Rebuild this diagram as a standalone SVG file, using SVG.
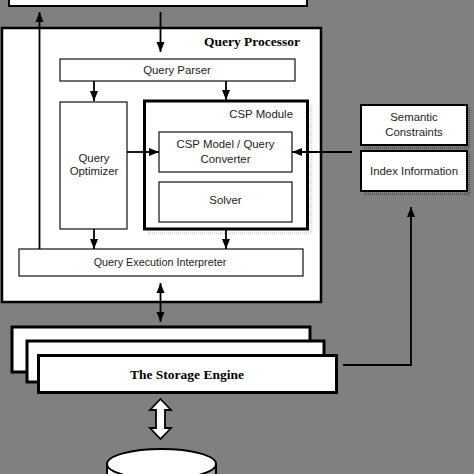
<svg xmlns="http://www.w3.org/2000/svg" width="474" height="474" viewBox="0 0 474 474">
<style>
.box{fill:#fff;stroke:#111;stroke-width:1.2}
.thick{fill:#fff;stroke:#000;stroke-width:3}
.sans{font-family:"Liberation Sans",Arial,sans-serif;font-size:11.4px;fill:#222}
.mid{text-anchor:middle}
.end{text-anchor:end}
.serif{font-family:"Liberation Serif","Times New Roman",serif;font-size:13.5px;font-weight:bold;fill:#000}
.conn{stroke:#000;stroke-width:1.8;fill:none}
.shadowL{stroke:#ddd;stroke-width:3;stroke-dasharray:1 1;fill:none}
.shadowD{stroke:#555;stroke-width:2.5;stroke-dasharray:1 1;fill:none}
</style>
<defs>
<marker id="ah" markerUnits="userSpaceOnUse" markerWidth="10" markerHeight="10" viewBox="0 0 10 8" refX="10" refY="4" orient="auto-start-reverse">
<path d="M0,0 L10,4 L0,8 z" fill="#000"/>
</marker>
<linearGradient id="cyl" x1="0" x2="1" y1="0" y2="0">
<stop offset="0" stop-color="#fff"/>
<stop offset="0.3" stop-color="#bbb"/>
<stop offset="0.6" stop-color="#eee"/>
<stop offset="1" stop-color="#999"/>
</linearGradient>
</defs>
<rect x="0" y="0" width="474" height="474" fill="#808080"/>

<g id="top-box">
<rect x="9" y="-10" width="298" height="16" fill="#fff" stroke="#000" stroke-width="2"/>
</g>

<g id="query-processor">
<rect x="2" y="28" width="319" height="274" fill="#fff" stroke="#000" stroke-width="2.5"/>
<text class="serif end" x="300" y="46">Query Processor</text>
</g>

<g id="query-parser">
<rect class="box" x="60" y="59" width="235" height="22"/>
<text class="sans mid" x="177" y="74">Query Parser</text>
</g>

<g id="query-optimizer">
<rect class="box" x="60" y="102" width="67" height="127"/>
<text class="sans mid" x="94" y="162">Query</text>
<text class="sans mid" x="94" y="175">Optimizer</text>
</g>

<g id="csp-module">
<path class="shadowL" d="M311,105 L311,233 L148,233"/>
<rect class="thick" x="144.5" y="101" width="163" height="128" stroke-width="2.8"/>
<text class="sans end" x="293" y="118">CSP Module</text>
</g>

<g id="csp-converter">
<rect class="box" x="159" y="132" width="133" height="40"/>
<text class="sans mid" x="225.5" y="148">CSP Model / Query</text>
<text class="sans mid" x="225.5" y="163">Converter</text>
</g>

<g id="solver">
<rect class="box" x="159" y="182" width="133" height="40"/>
<text class="sans mid" x="225.5" y="204">Solver</text>
</g>

<g id="query-execution-interpreter">
<rect class="box" x="19" y="249" width="284" height="27"/>
<text class="sans mid" x="160" y="266" style="font-size:10.8px">Query Execution Interpreter</text>
</g>

<g id="semantic-constraints">
<path class="shadowD" d="M469,108 L469,148 L364,148"/>
<rect x="361" y="105" width="106" height="40" fill="#fff" stroke="#000" stroke-width="2"/>
<text class="sans mid" x="414" y="121">Semantic</text>
<text class="sans mid" x="414" y="136">Constraints</text>
</g>

<g id="index-information">
<path class="shadowD" d="M469,154 L469,194 L364,194"/>
<rect x="361" y="151" width="106" height="40" fill="#fff" stroke="#000" stroke-width="2"/>
<text class="sans mid" x="414" y="175">Index Information</text>
</g>

<g id="storage-engine">
<rect x="12" y="327" width="298" height="45" fill="#fff" stroke="#000" stroke-width="3"/>
<rect x="27" y="341" width="297" height="41" fill="#fff" stroke="#000" stroke-width="3"/>
<rect x="38.5" y="355.5" width="298" height="37" fill="#fff" stroke="#000" stroke-width="3"/>
<text class="serif mid" x="187" y="379">The Storage Engine</text>
</g>

<g id="database">
<path d="M107,464 L107,480 L216,480 L216,464" fill="url(#cyl)" stroke="#000" stroke-width="2"/>
<ellipse cx="161.5" cy="464" rx="54.5" ry="15" fill="#fff" stroke="#000" stroke-width="2"/>
</g>

<g id="connectors">
<line class="conn" x1="39.5" y1="249" x2="39.5" y2="12" marker-end="url(#ah)"/>
<line class="conn" x1="160.5" y1="12" x2="160.5" y2="52" marker-end="url(#ah)"/>
<line class="conn" x1="94" y1="81" x2="94" y2="101" marker-end="url(#ah)"/>
<line class="conn" x1="226" y1="81" x2="226" y2="100" marker-end="url(#ah)"/>
<line class="conn" x1="127" y1="152" x2="159" y2="152" marker-end="url(#ah)"/>
<line class="conn" x1="352" y1="152" x2="292" y2="152" marker-end="url(#ah)"/>
<line class="conn" x1="94" y1="229" x2="94" y2="249" marker-end="url(#ah)"/>
<line class="conn" x1="226" y1="230" x2="226" y2="249" marker-end="url(#ah)"/>
<line class="conn" x1="160.5" y1="283" x2="160.5" y2="322" marker-start="url(#ah)" marker-end="url(#ah)"/>
<polyline class="conn" points="343,365 411,365 411,207" marker-end="url(#ah)"/>
<path d="M160.5,399 L171,410 L165,410 L165,428 L171,428 L160.5,439 L150,428 L156,428 L156,410 L150,410 Z" fill="#fff" stroke="#000" stroke-width="1.8" stroke-linejoin="miter"/>
</g>
</svg>
